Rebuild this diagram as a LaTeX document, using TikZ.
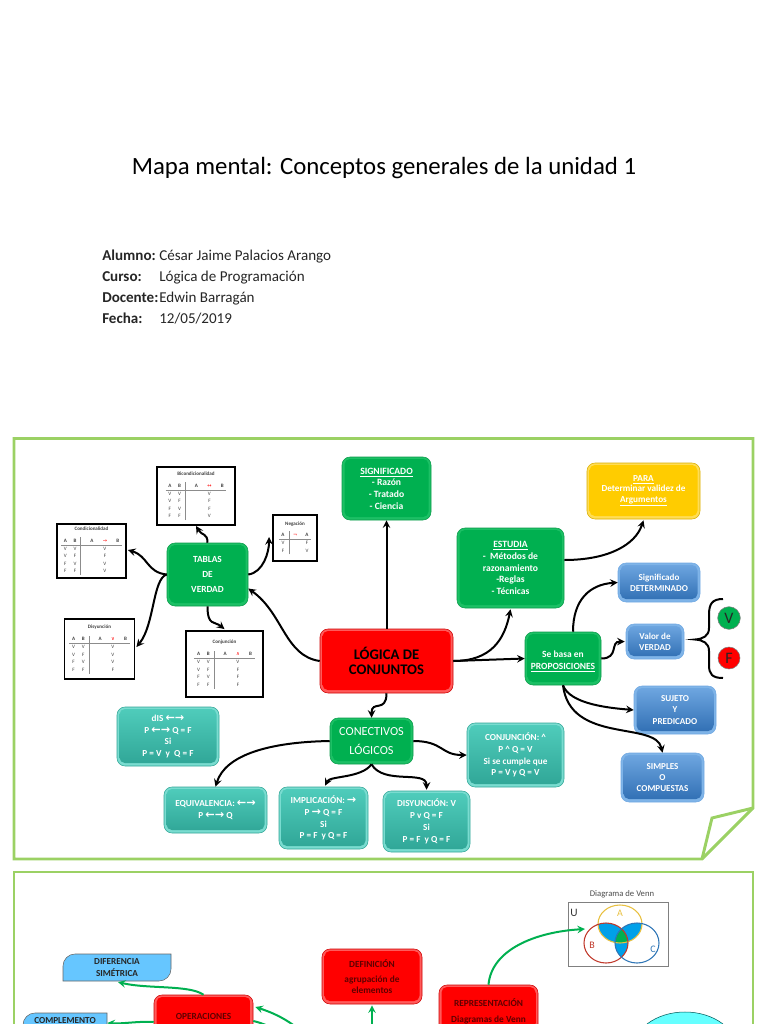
\documentclass[tikz,border=0pt]{standalone}
\usepackage{fontspec}
\usepackage{colortbl}
\setmainfont{Carlito}
\newfontfamily\flechas{DejaVu Sans}
\usetikzlibrary{arrows}
\usetikzlibrary{shapes.geometric}

\definecolor{marco}{HTML}{9BD164}
\definecolor{verdecaja}{HTML}{00B050}
\definecolor{verdeclaro}{HTML}{1CC065}
\definecolor{verdeosc}{HTML}{0A9A4A}
\definecolor{tealclaro}{HTML}{7ADCD0}
\definecolor{tealsup}{HTML}{50CDBC}
\definecolor{tealinf}{HTML}{2FA596}
\definecolor{azulclaro}{HTML}{7FB4E8}
\definecolor{azulsup}{HTML}{70A8E2}
\definecolor{azulinf}{HTML}{2E6DB2}
\definecolor{rojoclaro}{HTML}{FF5A5A}
\definecolor{oroclaro}{HTML}{FFDD55}
\definecolor{oro}{HTML}{FFCC00}
\definecolor{celeste}{HTML}{66C6FF}
\definecolor{cian}{HTML}{66FFFF}
\definecolor{rojotexto}{HTML}{600000}
\definecolor{vennazul}{HTML}{00A0E9}
\definecolor{vennoro}{HTML}{E8C040}
\definecolor{vennrojo}{HTML}{C0392B}
\definecolor{venncian}{HTML}{2E75B6}

\tikzset{
  tam/.style 2 args={minimum width=#1*0.75pt, minimum height=#2*0.75pt},
  bisel/.style 2 args={path picture={\shade[top color=#1, bottom color=#2, rounded corners=4]
      ([shift={(2.5,2)}]path picture bounding box.north west) rectangle
      ([shift={(-2.5,-3)}]path picture bounding box.south east);}},
  caja/.style={rounded corners=6, inner sep=0pt, align=center},
  verde/.style={caja, draw=verdeosc, fill=verdeclaro, bisel={verdecaja}{verdecaja}, text=white, font=\fontsize{7.2}{8.8}\selectfont\bfseries},
  turquesa/.style={caja, draw=tealinf, fill=tealclaro, bisel={tealsup}{tealinf}, text=white, font=\fontsize{6.9}{8.9}\selectfont\bfseries},
  azul/.style={caja, draw=azulsup, fill=azulclaro, bisel={azulsup}{azulinf}, text=white, font=\fontsize{6.8}{8.3}\selectfont\bfseries},
  rojo/.style={caja, draw=red!80!black, fill=rojoclaro, bisel={red}{red}, text=rojotexto, font=\fontsize{7}{8}\selectfont\bfseries},
  tabla/.style={draw=black, line width=1.4pt, inner sep=0pt, align=center, fill=white, font=\fontsize{3.8}{5.6}\selectfont, text=black!75},
  texto/.style={anchor=base west, inner sep=0pt, font=\fontsize{11.3}{13}\selectfont, text=black!85},
  rotulo/.style={texto, font=\fontsize{11.3}{13}\selectfont\bfseries},
  letra/.style={inner sep=0pt, font=\fontsize{7.5}{8}\selectfont},
  flecha/.style={draw=black, line width=1.5pt, -stealth},
  flechaverde/.style={draw=verdecaja, line width=1.5pt, -stealth},
  cuadro/.style={draw=marco, line width=2.2pt, line join=miter},
}

\newcommand{\tablaverdad}[3]{\textbf{#1}\\[4pt]%
  \arrayrulecolor{black!45}%
  \begin{tabular}{@{\hspace{2pt}}c@{\hspace{5pt}}c@{\hspace{3pt}}|@{\hspace{7pt}}c@{\hspace{7pt}}c@{\hspace{7pt}}c@{\hspace{2pt}}}
    \textbf{A} & \textbf{B} & \textbf{A} & \textcolor{red}{\flechas #2} & \textbf{B}\\\hline
    #3
  \end{tabular}}
\newcommand{\flechadoble}{{\flechas\fontsize{8.4}{8}\selectfont ←→}}
\newcommand{\flechasola}{{\flechas\fontsize{8.4}{8}\selectfont →}}
\renewcommand{\arraystretch}{1}
\setlength{\arrayrulewidth}{0.5pt}

\begin{document}
\begin{tikzpicture}[x=0.75pt, y=-0.75pt]
  \useasboundingbox (0,0) rectangle (768,1024);
  \clip (0,0) rectangle (768,1024);

  % encabezado
  \node[anchor=base, inner sep=0pt, font=\fontsize{18.6}{20}\selectfont] (titulo) at (384,174) {Mapa mental: Conceptos generales de la unidad 1};
  \node[rotulo] (alumno) at (102,260.5) {Alumno:};
  \node[rotulo] (curso) at (102,281.5) {Curso:};
  \node[rotulo] (docente) at (102,302.5) {Docente:};
  \node[rotulo] (fecha) at (102,323.5) {Fecha:};
  \node[texto] (nombre) at (159,260.5) {César Jaime Palacios Arango};
  \node[texto] (materia) at (159,281.5) {Lógica de Programación};
  \node[texto] (profe) at (159,302.5) {Edwin Barragán};
  \node[texto] (dia) at (159,323.5) {12/05/2019};

  % marcos
  \draw[cuadro] (14,859) -- (14,438.5) -- (753,438.5) -- (753,808) -- (702,859) -- cycle;
  \draw[cuadro] (753,808) -- (712,818) -- (702,859);
  \draw[cuadro] (14,1040) -- (14,872) -- (753,872) -- (753,1040);

  % mapa superior
  \node[tabla, tam={78}{58}] (bicond) at (196,496) {\tablaverdad{Bicondicionalidad}{↔}{V & V & & V & \\ V & F & & F & \\ F & V & & F & \\ F & F & & V & \\}};
  \node[tabla, tam={69}{54}] (cond) at (91.5,551) {\tablaverdad{Condicionalidad}{→}{V & V & & V & \\ V & F & & F & \\ F & V & & V & \\ F & F & & V & \\}};
  \node[tabla, tam={44}{46}] (neg) at (295,538) {\textbf{Negación}\\[3pt]\arrayrulecolor{black!45}\begin{tabular}{@{\hspace{2pt}}c@{\hspace{3pt}}|@{\hspace{3pt}}c@{\hspace{6pt}}c@{\hspace{2pt}}}\textbf{A} & \textcolor{red}{\flechas ¬} & \textbf{A}\\\hline V & & F\\ F & & V\\\end{tabular}};
  \node[tabla, tam={70}{60}] (disy) at (99.5,649) {\tablaverdad{Disyunción}{∨}{V & V & & V & \\ V & F & & V & \\ F & V & & V & \\ F & F & & F & \\}};
  \node[tabla, tam={77}{66}] (conj) at (224.5,664) {\tablaverdad{Conjunción}{∧}{V & V & & V & \\ V & F & & F & \\ F & V & & F & \\ F & F & & F & \\}};

  \node[verde, tam={81}{63}, font=\fontsize{7}{11.2}\selectfont\bfseries] (tablas) at (207.5,574.5) {TABLAS\\DE\\VERDAD};
  \node[caja, draw=red!80!black, fill=rojoclaro, bisel={red}{red}, text=black, tam={133}{64}, font=\fontsize{11}{11.2}\selectfont\bfseries] (logica) at (386.5,661) {LÓGICA DE\\CONJUNTOS};
  \node[verde, tam={89}{63}] (signif) at (386.5,488.5) {\underline{SIGNIFICADO}\\- Razón\\- Tratado\\- Ciencia};
  \node[verde, tam={107}{80}] (estudia) at (510.5,568) {\underline{ESTUDIA}\\- \ Métodos de\\razonamiento\\-Reglas\\- Técnicas};
  \node[caja, draw=oro!85!black, fill=oroclaro, bisel={oro}{oro}, text=white, tam={113}{56}, font=\fontsize{6.9}{7.6}\selectfont\bfseries] (para) at (643.5,491) {\underline{PARA}\\Determinar validez de\\\underline{Argumentos}};
  \node[verde, tam={76}{53}, font=\fontsize{7.1}{9}\selectfont\bfseries] (prop) at (563,658.5) {\rule{0pt}{9pt}Se basa en\\\underline{PROPOSICIONES}};
  \node[verde, tam={83}{46}, font=\fontsize{9.2}{14.5}\selectfont] (conect) at (371.5,741) {CONECTIVOS\\LÓGICOS};

  \node[azul, tam={82}{39}] (determ) at (659,582.5) {Significado\\DETERMINADO};
  \node[azul, tam={58}{35}] (valor) at (655,641.5) {Valor de\\VERDAD};
  \node[azul, tam={82}{48}] (sujeto) at (675,710) {SUJETO\\Y\\PREDICADO};
  \node[azul, tam={83}{49}] (simples) at (662.5,777.5) {SIMPLES\\O\\COMPUESTAS};

  \node[turquesa, tam={102}{59}] (dis) at (168,736.5) {dIS \flechadoble\\P \flechadoble\ Q = F\\Si\\P = V \ y \ Q = F};
  \node[turquesa, tam={103}{46}] (equiv) at (215.5,810) {EQUIVALENCIA: \flechadoble\\P \flechadoble\ Q};
  \node[turquesa, tam={89}{62}] (implic) at (323.5,818) {IMPLICACIÓN: \flechasola\\P \flechasola\ Q = F\\Si\\P = F \ y Q = F};
  \node[turquesa, tam={87}{61}] (disyun) at (426.5,821.5) {DISYUNCIÓN: V\\P v Q = F\\Si\\P = F \ y Q = F};
  \node[turquesa, tam={97}{64}] (conjun) at (515.5,755) {CONJUNCIÓN: \textasciicircum\\P \textasciicircum\ Q = V\\Si se cumple que\\P = V y Q = V};

  \node[circle, draw=black!50, fill=verdecaja, inner sep=0pt, minimum size=17pt, text=black!85, font=\fontsize{12}{12}\selectfont] (cv) at (729,618) {V};
  \node[circle, draw=black!50, fill=red, inner sep=0pt, minimum size=16.5pt, text=black!85, font=\fontsize{12}{12}\selectfont] (cf) at (729,658) {F};
  \draw[line width=1.5pt] (723,599) .. controls (712,599) and (709,604) .. (709,615) -- (709,628)
    .. controls (709,636) and (703,639) .. (695,639.5) .. controls (703,640) and (709,643) .. (709,651)
    -- (709,665) .. controls (709,674) and (712,678) .. (723,678);

  \draw[flecha] (tablas.north) .. controls +(0,-10) and +(6,10) .. (bicond.south);
  \draw[flecha] (tablas.west) .. controls +(-20,-2) and +(20,6) .. ([shift={(1,-1)}]cond.east);
  \draw[flecha] (tablas.west) .. controls +(-14,4) and +(18,-22) .. ([shift={(1,-2)}]disy.east);
  \draw[flecha] (tablas.east) .. controls +(15,-2) and +(0,15) .. ([shift={(-3,-1)}]neg.west);
  \draw[flecha] (tablas.south) .. controls +(0,20) and +(-10,-8) .. ([shift={(0,-1)}]conj.north);
  \draw[flecha] (logica.west) .. controls +(-35,-5) and +(35,25) .. ([shift={(0,14)}]tablas.east);
  \draw[flecha] (logica.north) -- (signif.south);
  \draw[flecha] (logica.east) .. controls +(38,0) and +(-6,30) .. ([shift={(0,1)}]estudia.south);
  \draw[flecha] (logica.east) -- (prop.west);
  \draw[flecha] ([shift={(0,-8)}]estudia.east) .. controls +(45,0) and +(-8,24) .. ([shift={(0,1)}]para.south);
  \draw[flecha] ([shift={(10,0)}]prop.north) .. controls +(0,-32) and +(-28,2) .. (determ.west);
  \draw[flecha] (prop.east) .. controls +(18,0) and +(-15,0) .. ([shift={(-1,0)}]valor.west);
  \draw[flecha] (prop.south) .. controls +(7,19) and +(-24,-2) .. (sujeto.west);
  \draw[flecha] (prop.south) .. controls +(7,59) and +(-7,-32) .. (simples.north);
  \draw[flecha] (logica.south) .. controls +(0,20) and +(0,-18) .. (conect.north);
  \draw[flecha] (conect.west) .. controls +(-60,1) and +(10,-32) .. (equiv.north);
  \draw[flecha] (conect.south) .. controls +(-10,14) and +(5,-10) .. ([shift={(1.5,-1)}]implic.north);
  \draw[flecha] (conect.south) .. controls +(12,21) and +(0,-20) .. ([shift={(0,-1)}]disyun.north);
  \draw[flecha] (conect.east) .. controls +(30,0) and +(-26,0) .. (conjun.west);

  % mapa inferior
  \coordinate (centro) at (372,1060);
  \coordinate (entrada) at (320,1060);
  \coordinate (salida) at (300,1060);
  \coordinate (venn) at (585,929);

  \path[draw=black!60, line width=0.4pt, fill=celeste] (63,981) [rounded corners=9] -- (63,954) [sharp corners] -- (171,954) [rounded corners=9] -- (171,981) [sharp corners] -- cycle;
  \node[inner sep=0pt, align=center, minimum width=81pt, minimum height=20pt, font=\fontsize{6.9}{9}\selectfont\bfseries, text=black!85] (dif) at (117,967.5) {DIFERENCIA\\SIMÉTRICA};
  \path[draw=black!60, line width=0.4pt, fill=celeste] (23,1040) [rounded corners=9] -- (23,1013) [sharp corners] -- (107,1013) -- (107,1040) -- cycle;
  \node[inner sep=0pt, minimum width=63pt, minimum height=20pt] (compl) at (65,1026.5) {};
  \node[anchor=base, font=\fontsize{6.9}{9}\selectfont\bfseries, text=black!85, inner sep=0pt] (tcompl) at (65,1023.7) {COMPLEMENTO};

  \node[rojo, tam={99}{60}] (oper) at (203.5,1025) {};
  \node[font=\fontsize{7}{8}\selectfont\bfseries, text=rojotexto, inner sep=0pt] (toper) at (203.5,1016) {OPERACIONES};
  \node[rojo, tam={100}{55}] (defin) at (372,976.5) {DEFINICIÓN\\[3pt]agrupación de\\elementos};
  \node[rojo, tam={99}{60}] (repre) at (488.5,1015) {};
  \node[font=\fontsize{7}{12}\selectfont\bfseries, text=rojotexto, align=center, inner sep=0pt, anchor=north] (trepre) at (488.5,998) {REPRESENTACIÓN\\Diagramas de Venn};
  \node[ellipse, draw=teal!70!black, fill=cian, inner sep=0pt, tam={104}{76}] (elipse) at (685,1050) {};

  \draw[flechaverde] (oper.north) .. controls +(-14,-10) and +(30,7) .. ([shift={(1,1)}]dif.south);
  \draw[flechaverde] ([shift={(0,-3)}]oper.west) .. controls +(-15,-1) and +(15,1) .. ([shift={(0,-3.5)}]compl.east);
  \draw[flechaverde] (entrada) .. controls +(-10,-30) and +(25,8) .. ([shift={(2,-18)}]oper.east);
  \draw[flechaverde] ([shift={(0,-4)}]oper.east) .. controls +(15,3) and +(0,-20) .. (salida);
  \draw[flechaverde] (centro) -- ([shift={(0,1)}]defin.south);

  % diagrama de Venn
  \node[font=\fontsize{6.5}{7}\selectfont, text=black!70] (tvenn) at (622,894) {Diagrama de Venn};
  \node[draw=black!50, line width=0.5pt, tam={100}{64}] (marcovenn) at (618,934) {};
  \def\vennA{(620,924) ellipse [x radius=22, y radius=19]}
  \def\vennB{(606,943) ellipse [x radius=22, y radius=20]}
  \def\vennC{(637,943) ellipse [x radius=22, y radius=20]}
  \begin{scope}
    \clip \vennA;
    \fill[vennazul] \vennB;
    \fill[vennazul] \vennC;
  \end{scope}
  \begin{scope}
    \clip \vennB;
    \fill[vennazul] \vennC;
    \clip \vennC;
    \fill[verdecaja] \vennA;
  \end{scope}
  \draw[vennoro, line width=0.8pt] \vennA;
  \draw[vennrojo, line width=0.8pt] \vennB;
  \draw[venncian, line width=0.8pt] \vennC;
  \node[letra, font=\fontsize{8.5}{9}\selectfont, text=black!80] (letrau) at (574,913) {U};
  \node[letra, text=vennoro] (letraa) at (620,913) {A};
  \node[letra, text=vennrojo] (letrab) at (592,945) {B};
  \node[letra, text=venncian] (letrac) at (653,949) {C};
  \draw[flechaverde] (repre.north) .. controls +(3,-35) and +(-50,3) .. (venn);
\end{tikzpicture}
\end{document}
